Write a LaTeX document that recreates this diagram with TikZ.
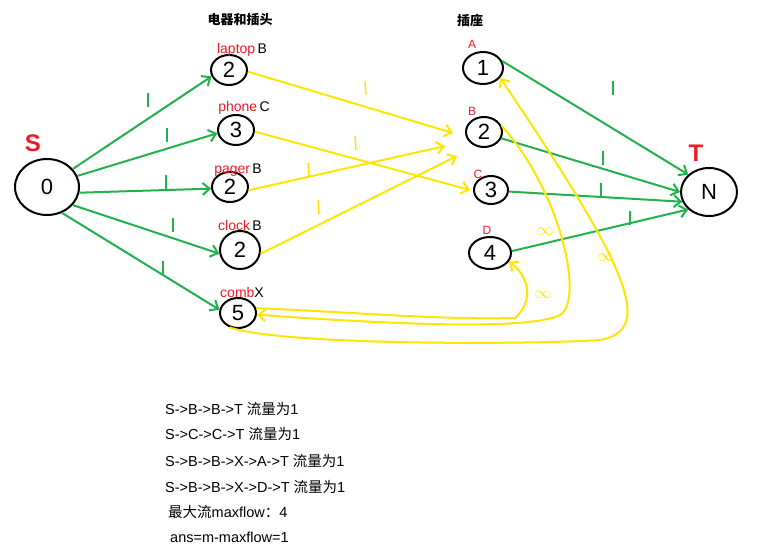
\documentclass[tikz,border=0pt]{standalone}
\usepackage{fontspec}
\setmainfont{Liberation Sans}
\newfontfamily\cjk{Noto Sans CJK SC}
\usetikzlibrary{arrows.meta,shapes.geometric}
\definecolor{gr}{RGB}{34,177,76}
\definecolor{yl}{RGB}{255,230,0}
\definecolor{rd}{RGB}{237,28,36}
\begin{document}
\begin{tikzpicture}[x=1pt,y=-1pt,
  circ/.style={draw,line width=2pt,ellipse,minimum width=36pt,minimum height=30pt,inner sep=0pt,font=\fontsize{22}{22}\selectfont},
  ge/.style={gr,line width=2pt,-{Straight Barb[length=7pt,width=12pt]}},
  ye/.style={yl,line width=2pt,-{Straight Barb[length=7pt,width=12pt]}},
  yp/.style={yl,line width=2pt},
  gt/.style={gr,line width=1.5pt},
  yt/.style={yl,line width=1.5pt},
  lab/.style={font=\fontsize{14}{14}\selectfont,inner sep=0pt},
  txt/.style={font=\fontsize{14.5}{14.5}\selectfont,anchor=west,inner sep=0pt}]
\useasboundingbox[fill=white] (0,0) rectangle (758,559);
\node[circ,minimum width=64pt,minimum height=56pt] (S) at (47,187) {0};
\node[circ] (lap) at (229,70) {2};
\node[circ] (pho) at (236,130) {3};
\node[circ] (pag) at (230,187) {2};
\node[circ,minimum width=40pt,minimum height=38pt] (clo) at (240,250) {2};
\node[circ] (com) at (238,313) {5};
\node[circ,minimum width=40pt,minimum height=32pt] (A) at (483,68) {1};
\node[circ] (B) at (484,132) {2};
\node[circ,minimum width=34pt,minimum height=28pt] (C) at (491,190) {3};
\node[circ,minimum width=42pt,minimum height=32pt] (D) at (490,253) {4};
\node[circ,minimum width=56pt,minimum height=48pt] (T) at (709,192) {N};
\node[font=\bfseries\fontsize{24}{24}\selectfont,text=rd] (Sl) at (33,143) {S};
\node[font=\bfseries\fontsize{24}{24}\selectfont,text=rd] (Tl) at (696,153) {T};
\node[font=\cjk\bfseries\fontsize{13}{13}\selectfont] (h1) at (240,20) {电器和插头};
\node[font=\cjk\bfseries\fontsize{13}{13}\selectfont] (h2) at (470,20) {插座};
\node[lab] (l1) at (242,50) {\textcolor{rd}{laptop}\,B};
\node[lab] (l2) at (244,108) {\textcolor{rd}{phone}\,C};
\node[lab] (l3) at (238,170) {\textcolor{rd}{pager}\,B};
\node[lab] (l4) at (240,225) {\textcolor{rd}{clock}\,B};
\node[lab] (l5) at (242,292) {\textcolor{rd}{comb}X};
\node[lab,text=rd,font=\fontsize{12}{12}\selectfont] (la) at (472,44) {A};
\node[lab,text=rd,font=\fontsize{12}{12}\selectfont] (lb) at (472,111) {B};
\node[lab,text=rd,font=\fontsize{12}{12}\selectfont] (lc) at (478,174) {C};
\node[lab,text=rd,font=\fontsize{12}{12}\selectfont] (ld) at (487,230) {D};
% green edges
\draw[ge] (S.35) -- (lap.200);
\draw[ge] (S.20) -- (pho.190);
\draw[ge] (S.-10) -- (pag.185);
\draw[ge] (S.-35) -- (clo.190);
\draw[ge] (S.-60) -- (com.170);
\draw[ge] (A.20) -- (T.140);
\draw[ge] (B.-20) -- (T.180);
\draw[ge] (C.-5) -- (T.200);
\draw[ge] (D.5) -- (T.220);
% yellow edges
\coordinate (bB1) at (453,133);
\coordinate (bB2) at (445,146);
\coordinate (bB3) at (457,156);
\coordinate (cC) at (470,190);
\draw[ye] (lap.-5) -- (bB1);
\draw[ye] (pho.-5) -- (cC);
\draw[ye] (pag.-10) -- (bB2);
\draw[ye] (clo.-10) -- (bB3);
\draw[yp,-{Straight Barb[length=7pt,width=12pt]}] (com.15) .. controls (350,312) and (440,320) .. (515,318) .. controls (535,300) and (528,275) .. (D.-25);
\draw[yp,-{Straight Barb[length=7pt,width=12pt]}] (B.20) .. controls (560,190) and (585,300) .. (560,315) .. controls (530,330) and (400,325) .. (com.-5);
\draw[yp,-{Straight Barb[length=7pt,width=12pt]}] (com.-120) .. controls (280,345) and (520,345) .. (600,340) .. controls (655,330) and (630,270) .. (A.-30);
% capacity ticks
\foreach \x/\y in {148/100,167/135,166/182,173/225,163/268,613/88,603/158,601/190,630/218}
  \draw[gt] (\x,\y-7) -- (\x,\y+7);
\foreach \x/\y in {365/88,355/143,308/170,318/207}
  \draw[yt] (\x,\y-7) -- (\x+1,\y+7);
\foreach \x/\y [count=\i] in {545/232,606/258,543/295}
  \node[text=yl,font=\fontsize{16}{16}\selectfont] (inf\i) at (\x,\y) {$\infty$};
% text
\node[txt] (t1) at (165,409) {S->B->B->T {\cjk 流量为}1};
\node[txt] (t2) at (165,434) {S->C->C->T {\cjk 流量为}1};
\node[txt] (t3) at (165,461) {S->B->B->X->A->T {\cjk 流量为}1};
\node[txt] (t4) at (165,487) {S->B->B->X->D->T {\cjk 流量为}1};
\node[txt] (t5) at (168,512) {{\cjk 最大流}maxflow{\cjk ：}4};
\node[txt] (t6) at (170,537) {ans=m-maxflow=1};
\end{tikzpicture}
\end{document}
